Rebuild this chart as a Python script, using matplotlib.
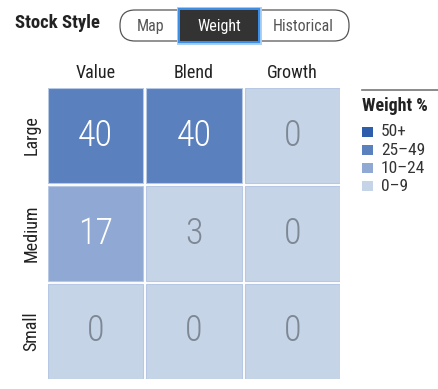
import matplotlib
matplotlib.use('Agg')
from matplotlib import pyplot as plt
from matplotlib.patches import Rectangle, FancyBboxPatch
import matplotlib.patheffects as pe

# data
styles = ['Value', 'Blend', 'Growth']
sizes = ['Large', 'Medium', 'Small']
weights = [[40, 40, 0],
           [17, 3, 0],
           [0, 0, 0]]
bin_labels = ['50+', '25\u201349', '10\u201324', '0\u20139']
bin_lows = [50, 25, 10, 0]
bin_colors = ['#2e5eab', '#5a80be', '#8fa9d4', '#c6d4e8']
tabs = ['Map', 'Weight', 'Historical']

plt.rcParams['font.family'] = ['Roboto Condensed', 'Roboto', 'DejaVu Sans']

W, H = 439, 389
fig = plt.figure(figsize=(W / 100, H / 100), dpi=100)

# overlay axes in pixel coordinates for the header and legend
ov = fig.add_axes([0, 0, 1, 1])
ov.set_xlim(0, W)
ov.set_ylim(H, 0)
ov.axis('off')


def color_for(v):
    for low, c in zip(bin_lows, bin_colors):
        if v >= low:
            return c
    return bin_colors[-1]


# grid of cells
ax = fig.add_axes([48 / W, 1 - 379 / H, 292 / W, 291 / H])
ax.set_xlim(0.015, 2.985)
ax.set_ylim(2.985, 0.015)
ax.axis('off')
gap = 0.031
for r, row in enumerate(weights):
    for c, v in enumerate(row):
        col = color_for(v)
        ax.add_patch(Rectangle((c + gap / 2, r + gap / 2), 1 - gap, 1 - gap,
                               facecolor=col, edgecolor='#b7c8e4', lw=0.8))
        tc = 'white' if v >= 10 else '#7d8894'
        ax.text(c + 0.5, r + 0.5, str(v), ha='center', va='center',
                fontsize=26, fontweight='light', color=tc)

for c, s in enumerate(styles):
    ax.text(c + 0.5, -0.05, s, ha='center', va='bottom', fontsize=13, color='#222222')
for r, s in enumerate(sizes):
    ax.text(-0.06, r + 0.5, s, ha='right', va='center', rotation=90,
            fontsize=13, color='#222222')

# title
ov.text(15, 23, 'Stock Style', ha='left', va='center',
        fontsize=13.5, fontweight='bold', color='#222222')

# toggle buttons
ov.add_patch(FancyBboxPatch((120, 10), 229, 31,
                            boxstyle='round,pad=0,rounding_size=15',
                            facecolor='white', edgecolor='#555555', lw=0.9))
ov.add_patch(Rectangle((180, 10), 78, 31, facecolor='#333333', edgecolor='#3a8ee8', lw=2,
                       path_effects=[pe.Stroke(linewidth=5, foreground='#a9d0f7'),
                                     pe.Stroke(linewidth=3, foreground='#3a8ee8'),
                                     pe.Normal()]))
ov.add_patch(Rectangle((180, 10), 78, 31, facecolor='#333333', edgecolor='none'))
tab_x = [151, 219, 303]
for t, x in zip(tabs, tab_x):
    ov.text(x, 26, t, ha='center', va='center', fontsize=11.5,
            color='white' if t == 'Weight' else '#555555')

# legend
ov.plot([362, 439], [90, 90], color='#777777', lw=1.2)
ov.text(362, 106, 'Weight %', ha='left', va='center', fontsize=13,
        fontweight='bold', color='#222222')
leg_y = [132, 150, 168, 186]
for lab, c, y in zip(bin_labels, bin_colors, leg_y):
    ov.add_patch(Rectangle((362, y - 5), 11, 10, facecolor=c, edgecolor='none'))
    ov.text(381, y, lab, ha='left', va='center', fontsize=12.5, color='#333333')

fig.savefig('out.png', dpi=100)
